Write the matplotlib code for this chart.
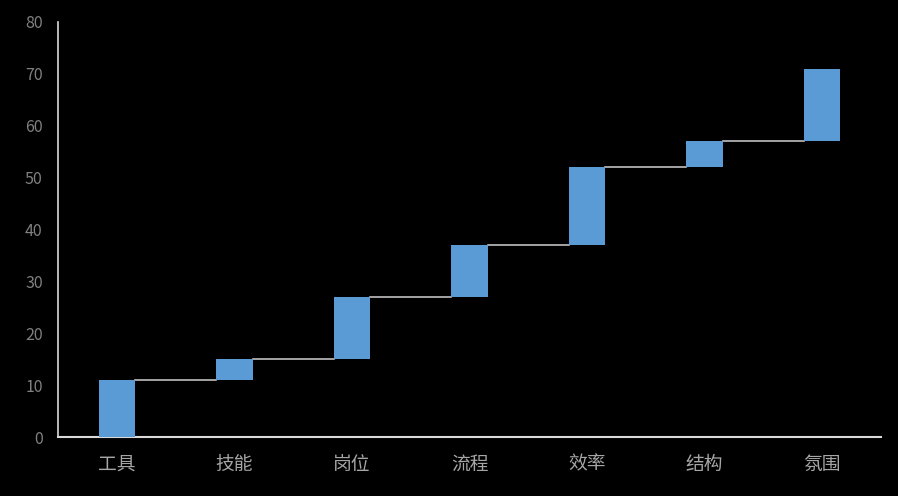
import matplotlib

matplotlib.use("Agg")
import matplotlib.pyplot as plt
import numpy as np

plt.rcParams["font.family"] = ["Noto Sans CJK SC", "DejaVu Sans"]

categories = ["工具", "技能", "岗位", "流程", "效率", "结构", "氛围"]
increments = [11, 4, 12, 10, 15, 5, 14]
y_ticks = [0, 10, 20, 30, 40, 50, 60, 70, 80]

tops = np.cumsum(increments)
bottoms = tops - np.array(increments)
x = np.arange(len(categories))
width = 0.31

fig = plt.figure(figsize=(8.98, 4.96), dpi=100, facecolor="black")
ax = fig.add_axes([58 / 898, 59 / 496, 823 / 898, 415 / 496], facecolor="black")

ax.bar(x, increments, bottom=bottoms, width=width, color="#5b9bd5", zorder=3)

# connector lines between consecutive bars
for i in range(len(categories) - 1):
    ax.plot([x[i] + width / 2, x[i + 1] - width / 2], [tops[i], tops[i]],
            color="#bfbfbf", linewidth=1.2, zorder=2)

ax.set_xlim(-0.5, len(categories) - 0.5)
ax.set_ylim(0, 80)
ax.set_yticks(y_ticks)
ax.set_xticks(x)
ax.set_xticklabels(categories, fontsize=13.5, color="#a6a6a6")
ax.tick_params(axis="y", labelsize=11.5, colors="#808080", length=0, pad=11)
ax.tick_params(axis="x", length=0, pad=12)

for side in ["top", "right"]:
    ax.spines[side].set_visible(False)
ax.spines["left"].set_color("#d9d9d9")
ax.spines["bottom"].set_color("#d9d9d9")
ax.spines["left"].set_linewidth(1.2)
ax.spines["bottom"].set_linewidth(1.5)

fig.savefig("out.png", dpi=100, facecolor="black")
